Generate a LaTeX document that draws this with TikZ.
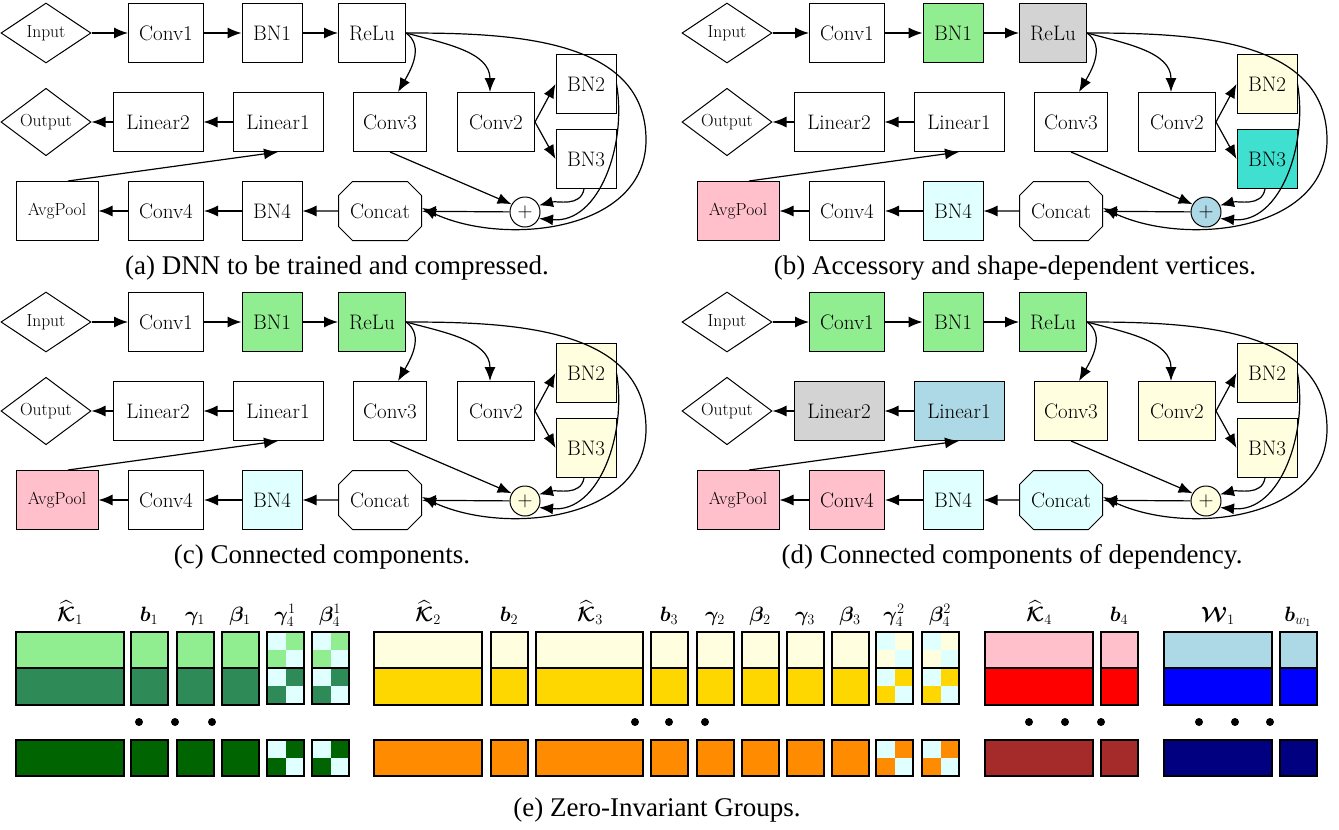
\documentclass[tikz,border=0pt]{standalone}
\usepackage{amsmath,amssymb,bm}
\usepackage{fontspec}
\newfontfamily\capfont{Liberation Serif}
\usepackage{tikz}
\usetikzlibrary{arrows.meta,positioning,shapes.geometric,shapes.misc,calc}

\definecolor{lgreen}{RGB}{144,238,144}
\definecolor{sgreen}{RGB}{46,139,87}
\definecolor{dgreen}{RGB}{0,100,0}
\definecolor{lyellow}{RGB}{255,255,224}
\definecolor{gold}{RGB}{255,215,0}
\definecolor{dorange}{RGB}{255,140,0}
\definecolor{pinkc}{RGB}{255,192,203}
\definecolor{brownc}{RGB}{165,42,42}
\definecolor{lblue}{RGB}{173,216,230}
\definecolor{navyc}{RGB}{0,0,128}
\definecolor{lcyan}{RGB}{224,255,255}
\definecolor{lgray}{RGB}{211,211,211}
\definecolor{turq}{RGB}{64,224,208}

\tikzset{
  col in/.style={}, col conv1/.style={}, col bn1/.style={}, col relu/.style={},
  col out/.style={}, col lin2/.style={}, col lin1/.style={}, col conv3/.style={},
  col conv2/.style={}, col bn2/.style={}, col bn3/.style={}, col pool/.style={},
  col conv4/.style={}, col bn4/.style={}, col concat/.style={}, col plus/.style={},
}

% ---- one DNN graph, names prefixed by #1 ----
\newcommand{\dnn}[1]{%
  \node[dia, col in] (#1in) at (46,33) {Input};
  \node[blk, col conv1, minimum width=75] (#1conv1) at (166,33) {Conv1};
  \node[blk, col bn1, minimum width=60] (#1bn1) at (272,33) {BN1};
  \node[blk, col relu, minimum width=67] (#1relu) at (372,33) {ReLu};
  \node[dia, col out] (#1out) at (46,122) {Output};
  \node[blk, col lin2, minimum width=90] (#1lin2) at (158,122) {Linear2};
  \node[blk, col lin1, minimum width=90] (#1lin1) at (278,122) {Linear1};
  \node[blk, col conv3, minimum width=73] (#1conv3) at (390,122) {Conv3};
  \node[blk, col conv2, minimum width=77] (#1conv2) at (496,122) {Conv2};
  \node[blk, col bn2, minimum width=60] (#1bn2) at (586,84) {BN2};
  \node[blk, col bn3, minimum width=60] (#1bn3) at (586,159) {BN3};
  \node[blk, col pool, minimum width=82, font=\fontsize{17.5}{20}\selectfont] (#1pool) at (57,211) {AvgPool};
  \node[blk, col conv4, minimum width=75] (#1conv4) at (166,211) {Conv4};
  \node[blk, col bn4, minimum width=60] (#1bn4) at (272,211) {BN4};
  \node[cham, col concat] (#1concat) at (380,211) {Concat};
  \node[draw, circle, col plus, minimum size=30, inner sep=0, font=\fontsize{22}{24}\selectfont] (#1plus) at (525,212) {$+$};
  \coordinate (#1loop) at (646,140);
  % edges
  \draw[arr] (#1in) -- (#1conv1);
  \draw[arr] (#1conv1) -- (#1bn1);
  \draw[arr] (#1bn1) -- (#1relu);
  \draw[arr] (#1relu.east) to[out=-35,in=60] ([xshift=8]#1conv3.north);
  \draw[arr] (#1relu.east) to[out=-15,in=90] ([xshift=-6]#1conv2.north);
  \draw[arr] (#1relu.east) to[out=0,in=90] (#1loop) to[out=-90,in=-25] ([yshift=3]#1concat.east);
  \draw[arr] (#1conv2.east) -- (#1bn2.west);
  \draw[arr] (#1conv2.east) -- (#1bn3.west);
  \draw[arr] (#1bn2.east) to[out=-80,in=-5] (#1plus.-25);
  \draw[arr] ([xshift=-2]#1bn3.south) to[out=-100,in=15] (#1plus.25);
  \draw[arr] (#1conv3.south) -- (#1plus.150);
  \draw[arr] (#1plus) -- (#1concat);
  \draw[arr] (#1concat) -- (#1bn4);
  \draw[arr] (#1bn4) -- (#1conv4);
  \draw[arr] (#1conv4) -- (#1pool);
  \draw[arr] ([xshift=11]#1pool.north) -- (#1lin1.south);
  \draw[arr] (#1lin1) -- (#1lin2);
  \draw[arr] (#1lin2) -- (#1out);
}

\begin{document}
\begin{tikzpicture}[
    x=1pt, y=-1pt, line width=1pt,
    blk/.style={draw, minimum height=59, inner sep=0, font=\fontsize{21}{24}\selectfont},
    dia/.style={draw, diamond, minimum width=90, minimum height=60, inner sep=0, font=\fontsize{17.5}{20}\selectfont},
    cham/.style={draw, chamfered rectangle, chamfered rectangle xsep=7, chamfered rectangle ysep=7,
      minimum width=83, minimum height=59, inner sep=0, font=\fontsize{21}{24}\selectfont},
    arr/.style={-{Latex[length=14, width=11]}, line width=1.2pt},
    subcap/.style={font=\capfont\fontsize{27}{30}\selectfont},
    lab/.style={font=\fontsize{22}{24}\selectfont, inner sep=0},
    bar/.style={draw, line width=1.2pt}
  ]
  \useasboundingbox (0,0) rectangle (1339,830);

  % ---- (a) ----
  \dnn{a}
  \node[subcap] (capa) at (337,268) {(a) DNN to be trained and compressed.};

  % ---- (b) ----
  \begin{scope}[shift={(681,0)}, col bn1/.style={fill=lgreen}, col relu/.style={fill=lgray},
      col bn2/.style={fill=lyellow}, col bn3/.style={fill=turq}, col plus/.style={fill=lblue},
      col pool/.style={fill=pinkc}, col bn4/.style={fill=lcyan}]
    \dnn{b}
  \end{scope}
  \node[subcap] (capb) at (1015,268) {(b) Accessory and shape-dependent vertices.};

  % ---- (c) ----
  \begin{scope}[shift={(0,289)}, col bn1/.style={fill=lgreen}, col relu/.style={fill=lgreen},
      col bn2/.style={fill=lyellow}, col bn3/.style={fill=lyellow}, col plus/.style={fill=lyellow},
      col pool/.style={fill=pinkc}, col bn4/.style={fill=lcyan}]
    \dnn{c}
  \end{scope}
  \node[subcap] (capc) at (322,557) {(c) Connected components.};

  % ---- (d) ----
  \begin{scope}[shift={(681,289)}, col conv1/.style={fill=lgreen}, col bn1/.style={fill=lgreen},
      col relu/.style={fill=lgreen}, col lin2/.style={fill=lgray}, col lin1/.style={fill=lblue},
      col conv3/.style={fill=lyellow}, col conv2/.style={fill=lyellow}, col bn2/.style={fill=lyellow},
      col bn3/.style={fill=lyellow}, col plus/.style={fill=lyellow}, col pool/.style={fill=pinkc},
      col conv4/.style={fill=pinkc}, col bn4/.style={fill=lcyan}, col concat/.style={fill=lcyan}]
    \dnn{d}
  \end{scope}
  \node[subcap] (capd) at (1012,557) {(d) Connected components of dependency.};

  % ---- (e) zero-invariant groups ----
  \foreach \x/\w/\ct/\cm/\cb in {16/108/lgreen/sgreen/dgreen, 131/37/lgreen/sgreen/dgreen,
      177/37/lgreen/sgreen/dgreen, 222/37/lgreen/sgreen/dgreen,
      374/108/lyellow/gold/dorange, 491/37/lyellow/gold/dorange, 536/107/lyellow/gold/dorange,
      651/37/lyellow/gold/dorange, 697/37/lyellow/gold/dorange, 742/37/lyellow/gold/dorange,
      787/37/lyellow/gold/dorange, 832/37/lyellow/gold/dorange,
      985/108/pinkc/red/brownc, 1101/37/pinkc/red/brownc,
      1164/108/lblue/blue/navyc, 1280/37/lblue/blue/navyc} {
    \draw[bar, fill=\ct] (\x,632) rectangle ++(\w,36);
    \draw[bar, fill=\cm] (\x,668) rectangle ++(\w,37);
    \draw[bar, fill=\cb] (\x,740) rectangle ++(\w,36);
  }
  \foreach \x/\ct/\cm/\cb in {267/lgreen/sgreen/dgreen, 312/lgreen/sgreen/dgreen,
      876/lyellow/gold/dorange, 922/lyellow/gold/dorange} {
    \foreach \y/\c in {632/\ct, 668/\cm, 740/\cb} {
      \fill[\c] (\x,\y) rectangle ++(37,36);
      \fill[lcyan] (\x,\y) rectangle ++(18.5,18);
      \fill[lcyan] (\x+18.5,\y+18) rectangle ++(18.5,18);
      \draw[bar] (\x,\y) rectangle ++(37,36);
    }
  }
  \foreach \x in {139,175,212, 635,669,705, 1029,1065,1101, 1199,1235,1270}
    \fill (\x,722) circle (4);

  \foreach \x/\t in {70/{\widehat{\bm{\mathcal{K}}}_1}, 149/{\bm{b}_1}, 195/{\bm{\gamma}_1},
      240/{\bm{\beta}_1}, 285/{\bm{\gamma}_4^1}, 330/{\bm{\beta}_4^1},
      428/{\widehat{\bm{\mathcal{K}}}_2}, 509/{\bm{b}_2}, 590/{\widehat{\bm{\mathcal{K}}}_3},
      669/{\bm{b}_3}, 715/{\bm{\gamma}_2}, 760/{\bm{\beta}_2}, 805/{\bm{\gamma}_3},
      850/{\bm{\beta}_3}, 894/{\bm{\gamma}_4^2}, 940/{\bm{\beta}_4^2},
      1039/{\widehat{\bm{\mathcal{K}}}_4}, 1119/{\bm{b}_4}, 1218/{\bm{\mathcal{W}}_1},
      1298/{\bm{b}_{w_1}}}
    \node[lab, anchor=base] at (\x,621) {$\t$};

  \node[subcap] (cape) at (657,810) {(e) Zero-Invariant Groups.};
\end{tikzpicture}
\end{document}
